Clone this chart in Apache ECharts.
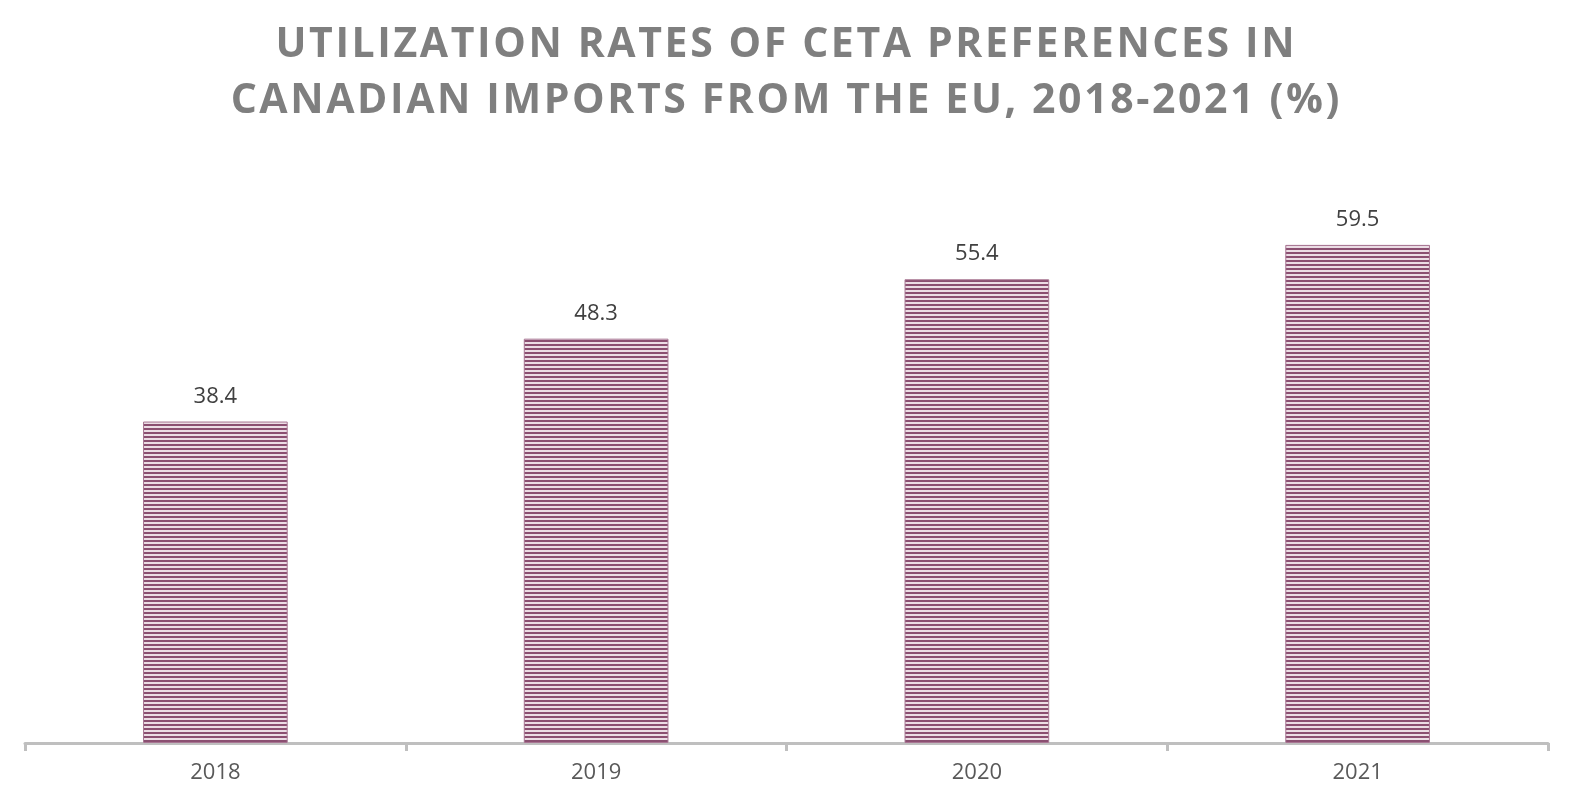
<!DOCTYPE html>
<html>
<head>
<meta charset="utf-8">
<script src="https://cdn.jsdelivr.net/npm/echarts@6/dist/echarts.min.js"></script>
<style>
  html, body, #main { width: 100%; height: 100%; margin: 0; background: #fff; }
</style>
</head>
<body>
<div id="main"></div>
<script>
var titleLines = ['UTILIZATION RATES OF CETA PREFERENCES IN', 'CANADIAN IMPORTS FROM THE EU, 2018-2021 (%)'];
var years = ['2018', '2019', '2020', '2021'];
var rates = [38.4, 48.3, 55.4, 59.5];

// striped fill like the original bars
function stripes() {
  var c = document.createElement('canvas');
  c.width = 4; c.height = 4;
  var ctx = c.getContext('2d');
  ctx.fillStyle = '#ecdde5';
  ctx.fillRect(0, 0, 4, 4);
  ctx.fillStyle = '#8b4f71';
  ctx.fillRect(0, 0, 4, 2);
  return c;
}

// no letter-spacing in canvas text, so every letter gets its own rich token with padding
function spaced(line) {
  return line.split('').map(function (ch) { return '{c|' + ch + '}'; }).join('');
}

var chart = echarts.init(document.getElementById('main'));
chart.setOption({
  animation: false,
  title: {
    text: titleLines.map(spaced).join('\n'),
    left: 'center',
    top: 12,
    textStyle: {
      rich: {
        c: {
          fontFamily: 'Open Sans',
          fontWeight: 'bold',
          fontSize: 41,
          lineHeight: 56,
          color: '#7f7f7f',
          padding: [0, 1.3, 0, 1.3]
        }
      }
    }
  },
  grid: { left: 25, right: 22, top: 157, bottom: 59 },
  xAxis: {
    type: 'category',
    data: years,
    axisLine: { lineStyle: { color: '#bfbfbf', width: 3 } },
    axisTick: { show: true, length: 8, lineStyle: { color: '#bfbfbf', width: 3 } },
    axisLabel: { color: '#595959', fontSize: 22, fontFamily: 'Open Sans', margin: 19 }
  },
  yAxis: {
    type: 'value',
    min: 0,
    max: 70,
    show: false,
    splitLine: { show: false }
  },
  series: [{
    type: 'bar',
    data: rates,
    barWidth: '38%',
    itemStyle: {
      color: { image: stripes(), repeat: 'repeat' },
      borderColor: '#a87693',
      borderWidth: 1
    },
    label: {
      show: true,
      position: 'top',
      distance: 14,
      color: '#404040',
      fontSize: 22,
      fontFamily: 'Open Sans'
    }
  }]
});
</script>
</body>
</html>
